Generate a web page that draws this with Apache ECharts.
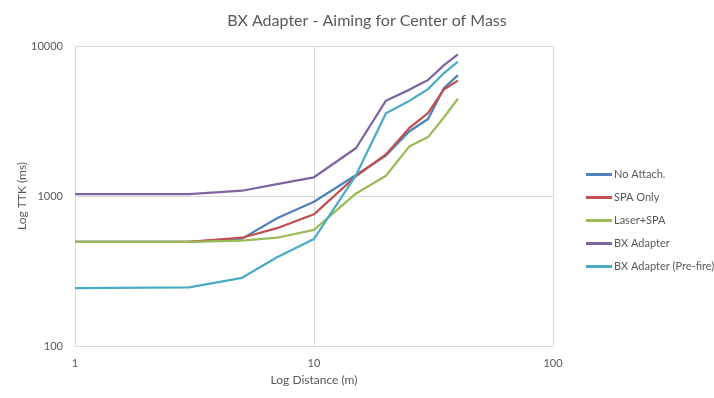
<!DOCTYPE html>
<html><head><meta charset="utf-8">
<script src="https://cdn.jsdelivr.net/npm/echarts@6/dist/echarts.min.js"></script>
<style>html,body{margin:0;padding:0;background:#fff}#c{width:714px;height:398px}</style>
</head><body><div id="c"></div>
<script>
const distances = [1, 3, 5, 7, 10, 15, 20, 25, 30, 35, 40];
const noAttach   = [495, 495, 520, 710, 915, 1380, 1860, 2690, 3260, 5250, 6400];
const spaOnly    = [495, 495, 527, 610, 755, 1360, 1890, 2830, 3570, 5150, 5880];
const laserSpa   = [495, 495, 505, 527, 595, 1040, 1366, 2135, 2470, 3350, 4450];
const bxAdapter  = [1030, 1030, 1084, 1200, 1333, 2090, 4320, 5100, 5930, 7450, 8800];
const bxPrefire  = [243, 246, 285, 390, 517, 1380, 3560, 4300, 5160, 6600, 7860];
const seriesNames = ['No Attach.', 'SPA Only', 'Laser+SPA', 'BX Adapter', 'BX Adapter (Pre-fire)'];
const seriesData = [noAttach, spaOnly, laserSpa, bxAdapter, bxPrefire];
const colors = ['#4F81BD', '#C0504D', '#9BBB59', '#8064A2', '#4BACC6'];

const font = 'Lato';
const chart = echarts.init(document.getElementById('c'));
chart.setOption({
  animation: false,
  color: colors,
  title: {
    text: 'BX Adapter - Aiming for Center of Mass',
    left: 362, top: 8, textAlign: 'center',
    textStyle: {fontFamily: font, fontSize: 16, fontWeight: 'normal', color: '#595959'}
  },
  legend: {
    orient: 'vertical', left: 581, top: 164, itemGap: 12,
    itemWidth: 26, itemHeight: 3,
    icon: 'rect',
    textStyle: {fontFamily: font, fontSize: 11, color: '#595959', padding: [0,0,0,-3]},
    data: seriesNames
  },
  grid: {left: 75, top: 46, width: 478, height: 300, containLabel: false},
  xAxis: {
    type: 'log', logBase: 10, min: 1, max: 100,
    name: 'Log Distance (m)', nameLocation: 'middle', nameGap: 28,
    nameTextStyle: {fontFamily: font, fontSize: 12, color: '#595959'},
    axisLine: {show: true, lineStyle: {color: '#d9d9d9'}},
    axisTick: {show: false},
    axisLabel: {fontFamily: font, fontSize: 11, color: '#595959', margin: 12,
      formatter: v => String(Math.round(v))},
    splitLine: {show: true, lineStyle: {color: '#d9d9d9'}},
    minorSplitLine: {show: false}
  },
  yAxis: {
    type: 'log', logBase: 10, min: 100, max: 10000,
    name: 'Log TTK (ms)', nameLocation: 'middle', nameGap: 47, nameRotate: 90,
    nameMoveOverlap: false,
    nameTextStyle: {fontFamily: font, fontSize: 12, color: '#595959'},
    axisLine: {show: true, lineStyle: {color: '#d9d9d9'}},
    axisTick: {show: false},
    axisLabel: {fontFamily: font, fontSize: 11, color: '#595959', margin: 12,
      formatter: v => String(Math.round(v))},
    splitLine: {show: true, lineStyle: {color: '#d9d9d9'}}
  },
  series: seriesNames.map((n, i) => ({
    name: n, type: 'line', showSymbol: false, symbol: 'none',
    lineStyle: {width: 2.25, color: colors[i]},
    itemStyle: {color: colors[i]},
    data: distances.map((d, j) => [d, seriesData[i][j]])
  }))
});
</script></body></html>
